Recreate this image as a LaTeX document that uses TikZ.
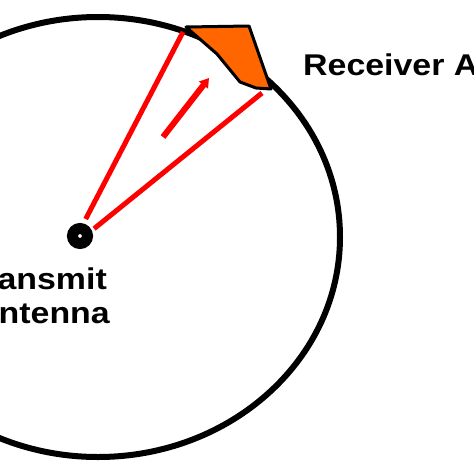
\documentclass[tikz,border=0pt]{standalone}
\usepackage{fontspec}
\setmainfont{Liberation Sans}
\usetikzlibrary{arrows.meta}
\definecolor{beamred}{RGB}{255,0,0}
\definecolor{spotorange}{RGB}{255,102,0}
\tikzset{
  rim/.style={draw=black, line width=6pt},
  beam/.style={draw=beamred, line width=5pt},
  flow/.style={draw=beamred, line width=6pt, -{Triangle[length=9pt,width=11pt]}},
  spotarea/.style={fill=spotorange, draw=black, line width=3pt, line join=round},
  lbl/.style={inner sep=0pt, font=\fontsize{30}{30}\selectfont\bfseries},
  antenna/.style={circle, draw=black, fill=white, line width=11pt, minimum size=15pt, inner sep=0pt}
}
\begin{document}
\begin{tikzpicture}[x=1pt,y=-1pt]
\useasboundingbox (0,0) rectangle (474,474);
\clip (0,0) rectangle (474,474);
\fill[white] (0,0) rectangle (474,474);
% coverage ellipse
\draw[rim] (98,237) ellipse [x radius=242pt, y radius=220pt];
% transmit antenna
\node[antenna] (tx) at (80,236) {};
% beam edges
\coordinate (p1) at (183,32);
\coordinate (p2) at (262,93);
\draw[beam, shorten <=5pt] (tx.75) -- (p1);
\draw[beam, shorten <=3pt] (tx.25) -- (p2);
% direction arrow
\coordinate (a1) at (163,137);
\coordinate (a2) at (209,78);
\draw[flow] (a1) -- (a2);
% illuminated area
\filldraw[spotarea] (186,27) -- (249,26) -- (271,89) -- (256,88) -- (240,82) -- (217,54) -- cycle;
% labels
\node[lbl, anchor=base west] (rxlabel) at (303,75) {\scalebox{1.13}[1]{Receiver Antenna}};
\node[lbl, anchor=base east] (txlabel1) at (107,289) {\scalebox{1.13}[1]{Transmit}};
\node[lbl, anchor=base east] (txlabel2) at (110,323) {\scalebox{1.13}[1]{Antenna}};
\end{tikzpicture}
\end{document}
